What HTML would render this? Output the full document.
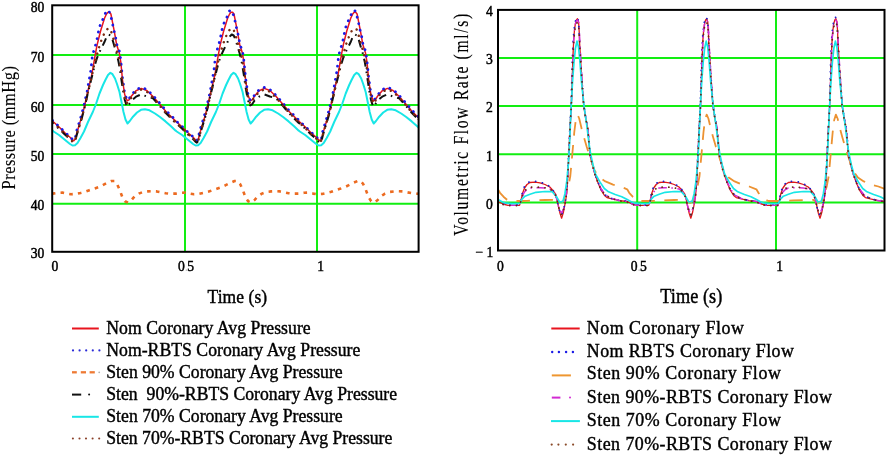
<!DOCTYPE html><html><head><meta charset="utf-8"><title>Coronary pressure and flow</title><style>
html,body{margin:0;padding:0;background:#fff;width:887px;height:456px;overflow:hidden}
svg{display:block}
text{font-family:"Liberation Serif","Times New Roman",serif;fill:#000}
.tk{font-size:13.6px}.ax{font-size:17.5px}.axr{font-size:18.3px}.lg{font-size:17.7px}.lgr{font-size:17.9px}text{stroke:#000;stroke-width:0.4px}.tk{stroke-width:0.45px}.yl{stroke-width:0.12px}
</style></head><body>
<svg width="887" height="456" viewBox="0 0 887 456">
<rect width="887" height="456" fill="#fff"/>
<defs>
<clipPath id="cl"><rect x="52.2" y="5.3" width="366.4" height="246.5"/></clipPath>
<clipPath id="cr"><rect x="498.0" y="9.9" width="386.5" height="240.6"/></clipPath>
</defs>
<g id="left-plot">
<line x1="52.2" y1="55.0" x2="418.6" y2="55.0" stroke="#12ee12" stroke-width="2"/>
<line x1="52.2" y1="105.0" x2="418.6" y2="105.0" stroke="#12ee12" stroke-width="2"/>
<line x1="52.2" y1="154.0" x2="418.6" y2="154.0" stroke="#12ee12" stroke-width="2"/>
<line x1="52.2" y1="203.8" x2="418.6" y2="203.8" stroke="#12ee12" stroke-width="2"/>
<line x1="185.0" y1="5.3" x2="185.0" y2="251.8" stroke="#12ee12" stroke-width="2"/>
<line x1="317.0" y1="5.3" x2="317.0" y2="251.8" stroke="#12ee12" stroke-width="2"/>
<g clip-path="url(#cl)">
<polyline points="47.9,116.5 52.3,120.9 52.5,120.9 53.6,122.0 59.1,127.0 64.6,132.5 70.0,137.3 72.5,140.0 73.8,140.8 75.3,139.0 76.8,133.0 79.5,124.0 81.8,116.5 84.2,107.5 87.7,92.0 91.6,75.8 95.3,54.3 97.2,44.5 100.5,31.3 104.5,18.2 106.5,14.0 108.0,12.3 109.5,12.3 110.9,14.0 111.7,18.2 114.3,31.3 116.6,44.5 119.3,53.0 120.8,62.0 122.5,80.0 124.7,94.5 127.1,100.8 129.0,99.8 131.5,96.0 136.0,90.7 141.2,88.4 146.8,90.5 153.0,96.5 160.0,104.4 165.5,111.0 171.0,116.5 175.4,120.9 175.6,120.9 176.7,122.0 182.2,127.0 187.7,132.5 193.1,137.3 195.6,140.0 196.9,140.8 198.4,139.0 199.9,133.0 202.6,124.0 204.9,116.5 207.3,107.5 210.8,92.0 214.7,75.8 218.4,54.3 220.3,44.5 223.6,31.3 227.6,18.2 229.6,14.0 231.1,12.3 232.6,12.3 234.0,14.0 234.8,18.2 237.4,31.3 239.7,44.5 242.4,53.0 243.9,62.0 245.6,80.0 247.8,94.5 250.2,100.8 252.1,99.8 254.6,96.0 259.1,90.7 264.3,88.4 269.9,90.5 276.1,96.5 283.1,104.4 288.6,111.0 294.1,116.5 298.5,120.9 298.7,120.9 299.8,122.0 305.3,127.0 310.8,132.5 316.2,137.3 318.7,140.0 320.0,140.8 321.5,139.0 323.0,133.0 325.7,124.0 328.0,116.5 330.4,107.5 333.9,92.0 337.8,75.8 341.5,54.3 343.4,44.5 346.7,31.3 350.7,18.2 352.7,14.0 354.2,12.3 355.7,12.3 357.1,14.0 357.9,18.2 360.5,31.3 362.8,44.5 365.5,53.0 367.0,62.0 368.7,80.0 370.9,94.5 373.3,100.8 375.2,99.8 377.7,96.0 382.2,90.7 387.4,88.4 393.0,90.5 399.2,96.5 406.2,104.4 411.7,111.0 417.2,116.5 421.6,120.9 421.8,120.9 422.9,122.0" fill="none" stroke="#e8141e" stroke-width="1.5" stroke-linecap="butt" stroke-linejoin="round"/>
<polyline points="47.9,115.5 52.3,119.9 52.5,120.4 53.6,121.5 59.1,126.5 64.6,132.0 70.0,136.8 72.5,139.5 73.8,140.3 75.3,138.5 76.2,132.5 78.9,123.5 81.2,116.0 83.6,107.0 87.1,91.5 90.9,70.0 92.4,56.0 94.0,50.0 95.7,44.5 97.4,37.5 98.6,31.0 100.5,24.0 103.6,17.8 106.3,11.0 107.6,10.3 109.0,11.0 111.2,17.8 112.5,23.5 113.6,29.0 115.5,36.6 116.8,44.5 119.3,51.0 120.5,58.0 122.5,78.0 124.7,93.5 127.1,100.3 129.0,98.8 131.5,95.0 136.0,89.7 141.2,87.4 146.8,89.5 153.0,95.5 160.0,103.4 165.5,110.0 171.0,115.5 175.4,119.9 175.6,120.4 176.7,121.5 182.2,126.5 187.7,132.0 193.1,136.8 195.6,139.5 196.9,140.3 198.4,138.5 199.3,132.5 202.0,123.5 204.3,116.0 206.7,107.0 210.2,91.5 214.0,70.0 215.5,56.0 217.1,50.0 218.8,44.5 220.5,37.5 221.7,31.0 223.6,24.0 226.7,17.8 229.4,11.0 230.7,10.3 232.1,11.0 234.3,17.8 235.6,23.5 236.7,29.0 238.6,36.6 239.9,44.5 242.4,51.0 243.6,58.0 245.6,78.0 247.8,93.5 250.2,100.3 252.1,98.8 254.6,95.0 259.1,89.7 264.3,87.4 269.9,89.5 276.1,95.5 283.1,103.4 288.6,110.0 294.1,115.5 298.5,119.9 298.7,120.4 299.8,121.5 305.3,126.5 310.8,132.0 316.2,136.8 318.7,139.5 320.0,140.3 321.5,138.5 322.4,132.5 325.1,123.5 327.4,116.0 329.8,107.0 333.3,91.5 337.1,70.0 338.6,56.0 340.2,50.0 341.9,44.5 343.6,37.5 344.8,31.0 346.7,24.0 349.8,17.8 352.5,11.0 353.8,10.3 355.2,11.0 357.4,17.8 358.7,23.5 359.8,29.0 361.7,36.6 363.0,44.5 365.5,51.0 366.7,58.0 368.7,78.0 370.9,93.5 373.3,100.3 375.2,98.8 377.7,95.0 382.2,89.7 387.4,87.4 393.0,89.5 399.2,95.5 406.2,103.4 411.7,110.0 417.2,115.5 421.6,119.9 421.8,120.4 422.9,121.5" fill="none" stroke="#1a1ae6" stroke-width="2.8" stroke-linecap="round" stroke-linejoin="round" stroke-dasharray="0.1 6.6"/>
<polyline points="46.9,193.7 52.3,193.6 52.5,193.6 58.0,192.8 62.3,192.6 67.0,193.6 71.0,194.3 76.0,193.9 80.6,192.9 85.0,191.8 89.4,190.2 93.8,188.8 98.2,187.3 102.6,185.2 107.0,182.9 111.5,181.0 114.5,181.0 117.0,184.0 119.5,189.5 122.3,197.0 125.0,201.2 128.0,202.6 131.5,200.0 134.5,196.5 138.8,193.6 143.0,192.0 148.0,191.4 152.5,191.2 156.8,191.4 161.0,192.3 165.6,193.2 170.0,193.7 175.4,193.6 175.6,193.6 181.1,192.8 185.4,192.6 190.1,193.6 194.1,194.3 199.1,193.9 203.7,192.9 208.1,191.8 212.5,190.2 216.9,188.8 221.3,187.3 225.7,185.2 230.1,182.9 234.6,181.0 237.6,181.0 240.1,184.0 242.6,189.5 245.4,197.0 248.1,201.2 251.1,202.6 254.6,200.0 257.6,196.5 261.9,193.6 266.1,192.0 271.1,191.4 275.6,191.2 279.9,191.4 284.1,192.3 288.7,193.2 293.1,193.7 298.5,193.6 298.7,193.6 304.2,192.8 308.5,192.6 313.2,193.6 317.2,194.3 322.2,193.9 326.8,192.9 331.2,191.8 335.6,190.2 340.0,188.8 344.4,187.3 348.8,185.2 353.2,182.9 357.7,181.0 360.7,181.0 363.2,184.0 365.7,189.5 368.5,197.0 371.2,201.2 374.2,202.6 377.7,200.0 380.7,196.5 385.0,193.6 389.2,192.0 394.2,191.4 398.7,191.2 403.0,191.4 407.2,192.3 411.8,193.2 416.2,193.7 421.6,193.6 421.8,193.6" fill="none" stroke="#ec6a20" stroke-width="2.6" stroke-linecap="butt" stroke-linejoin="round" stroke-dasharray="3.6 5.2" stroke-dashoffset="3.90"/>
<polyline points="47.9,118.3 52.3,122.7 52.5,122.7 53.6,123.8 59.1,128.8 64.6,134.3 70.0,139.1 72.5,141.8 73.8,142.6 75.3,140.8 76.8,134.8 79.5,125.8 81.8,118.3 84.2,109.3 87.7,93.8 91.6,78.0 94.6,66.0 97.0,58.0 100.0,51.0 102.5,46.0 104.7,41.5 106.7,36.5 108.6,34.5 110.6,35.5 112.6,40.0 114.6,47.0 116.6,53.5 118.6,62.0 120.6,74.0 122.6,88.0 124.8,100.0 126.9,106.5 127.1,105.3 129.0,104.3 131.5,100.5 136.0,96.7 141.2,94.4 146.8,96.5 153.0,98.3 160.0,106.2 165.5,112.8 171.0,118.3 175.4,122.7 175.6,122.7 176.7,123.8 182.2,128.8 187.7,134.3 193.1,139.1 195.6,141.8 196.9,142.6 198.4,140.8 199.9,134.8 202.6,125.8 204.9,118.3 207.3,109.3 210.8,93.8 214.7,78.0 217.7,66.0 220.1,58.0 223.1,51.0 225.6,46.0 227.8,41.5 229.8,36.5 231.7,34.5 233.7,35.5 235.7,40.0 237.7,47.0 239.7,53.5 241.7,62.0 243.7,74.0 245.7,88.0 247.9,100.0 250.0,106.5 250.2,105.3 252.1,104.3 254.6,100.5 259.1,96.7 264.3,94.4 269.9,96.5 276.1,98.3 283.1,106.2 288.6,112.8 294.1,118.3 298.5,122.7 298.7,122.7 299.8,123.8 305.3,128.8 310.8,134.3 316.2,139.1 318.7,141.8 320.0,142.6 321.5,140.8 323.0,134.8 325.7,125.8 328.0,118.3 330.4,109.3 333.9,93.8 337.8,78.0 340.8,66.0 343.2,58.0 346.2,51.0 348.7,46.0 350.9,41.5 352.9,36.5 354.8,34.5 356.8,35.5 358.8,40.0 360.8,47.0 362.8,53.5 364.8,62.0 366.8,74.0 368.8,88.0 371.0,100.0 373.1,106.5 373.3,105.3 375.2,104.3 377.7,100.5 382.2,96.7 387.4,94.4 393.0,96.5 399.2,98.3 406.2,106.2 411.7,112.8 417.2,118.3 421.6,122.7 421.8,122.7 422.9,123.8" fill="none" stroke="#111" stroke-width="2" stroke-linecap="butt" stroke-linejoin="round" stroke-dasharray="8 5 1.6 5"/>
<polyline points="47.9,126.3 52.3,130.5 52.5,130.5 53.6,131.5 59.0,135.0 64.8,139.8 70.0,144.0 72.5,145.5 75.0,145.2 77.5,143.0 80.5,138.0 84.0,131.5 88.0,122.0 92.8,112.0 96.0,104.0 99.5,93.5 103.0,85.0 105.5,79.8 108.0,75.0 110.4,72.8 112.5,74.2 115.0,78.5 117.0,84.0 119.5,92.0 121.5,102.0 123.5,112.0 125.5,119.5 127.5,123.5 129.8,121.0 133.0,116.7 137.0,112.5 141.0,109.8 145.0,109.2 149.5,110.3 155.0,113.5 160.0,117.0 165.5,121.4 171.0,126.3 175.4,130.5 175.6,130.5 176.7,131.5 182.1,135.0 187.9,139.8 193.1,144.0 195.6,145.5 198.1,145.2 200.6,143.0 203.6,138.0 207.1,131.5 211.1,122.0 215.9,112.0 219.1,104.0 222.6,93.5 226.1,85.0 228.6,79.8 231.1,75.0 233.5,72.8 235.6,74.2 238.1,78.5 240.1,84.0 242.6,92.0 244.6,102.0 246.6,112.0 248.6,119.5 250.6,123.5 252.9,121.0 256.1,116.7 260.1,112.5 264.1,109.8 268.1,109.2 272.6,110.3 278.1,113.5 283.1,117.0 288.6,121.4 294.1,126.3 298.5,130.5 298.7,130.5 299.8,131.5 305.2,135.0 311.0,139.8 316.2,144.0 318.7,145.5 321.2,145.2 323.7,143.0 326.7,138.0 330.2,131.5 334.2,122.0 339.0,112.0 342.2,104.0 345.7,93.5 349.2,85.0 351.7,79.8 354.2,75.0 356.6,72.8 358.7,74.2 361.2,78.5 363.2,84.0 365.7,92.0 367.7,102.0 369.7,112.0 371.7,119.5 373.7,123.5 376.0,121.0 379.2,116.7 383.2,112.5 387.2,109.8 391.2,109.2 395.7,110.3 401.2,113.5 406.2,117.0 411.7,121.4 417.2,126.3 421.6,130.5 421.8,130.5 422.9,131.5" fill="none" stroke="#18e6e6" stroke-width="2" stroke-linecap="butt" stroke-linejoin="round"/>
<polyline points="47.9,117.7 52.3,122.1 52.5,122.1 53.6,123.2 59.1,128.2 64.6,133.7 70.0,138.5 72.5,141.2 73.8,142.0 75.3,140.2 76.8,134.2 79.5,125.2 81.8,117.7 84.2,108.7 87.7,93.2 91.6,77.0 94.6,63.0 96.6,56.0 98.2,50.4 100.1,43.8 102.8,36.6 105.5,31.0 108.2,28.3 110.4,29.3 112.5,35.5 114.5,43.0 116.8,51.0 119.2,60.0 121.2,72.0 123.0,86.0 124.8,97.0 127.0,103.5 127.1,102.0 129.0,101.0 131.5,97.2 136.0,91.9 141.2,89.6 146.8,91.7 153.0,97.7 160.0,105.6 165.5,112.2 171.0,117.7 175.4,122.1 175.6,122.1 176.7,123.2 182.2,128.2 187.7,133.7 193.1,138.5 195.6,141.2 196.9,142.0 198.4,140.2 199.9,134.2 202.6,125.2 204.9,117.7 207.3,108.7 210.8,93.2 214.7,77.0 217.7,63.0 219.7,56.0 221.3,50.4 223.2,43.8 225.9,36.6 228.6,31.0 231.3,28.3 233.5,29.3 235.6,35.5 237.6,43.0 239.9,51.0 242.3,60.0 244.3,72.0 246.1,86.0 247.9,97.0 250.1,103.5 250.2,102.0 252.1,101.0 254.6,97.2 259.1,91.9 264.3,89.6 269.9,91.7 276.1,97.7 283.1,105.6 288.6,112.2 294.1,117.7 298.5,122.1 298.7,122.1 299.8,123.2 305.3,128.2 310.8,133.7 316.2,138.5 318.7,141.2 320.0,142.0 321.5,140.2 323.0,134.2 325.7,125.2 328.0,117.7 330.4,108.7 333.9,93.2 337.8,77.0 340.8,63.0 342.8,56.0 344.4,50.4 346.3,43.8 349.0,36.6 351.7,31.0 354.4,28.3 356.6,29.3 358.7,35.5 360.7,43.0 363.0,51.0 365.4,60.0 367.4,72.0 369.2,86.0 371.0,97.0 373.2,103.5 373.3,102.0 375.2,101.0 377.7,97.2 382.2,91.9 387.4,89.6 393.0,91.7 399.2,97.7 406.2,105.6 411.7,112.2 417.2,117.7 421.6,122.1 421.8,122.1 422.9,123.2" fill="none" stroke="#7a2a10" stroke-width="2.4" stroke-linecap="round" stroke-linejoin="round" stroke-dasharray="0.1 6.6"/>
</g>
<rect x="52.2" y="5.3" width="366.4" height="246.5" fill="none" stroke="#000" stroke-width="2"/>
<text class="tk" transform="translate(44.3,11.9) scale(1,1.1)" text-anchor="end">80</text>
<text class="tk" transform="translate(44.3,61.6) scale(1,1.1)" text-anchor="end">70</text>
<text class="tk" transform="translate(44.3,111.6) scale(1,1.1)" text-anchor="end">60</text>
<text class="tk" transform="translate(44.3,160.6) scale(1,1.1)" text-anchor="end">50</text>
<text class="tk" transform="translate(44.3,210.4) scale(1,1.1)" text-anchor="end">40</text>
<text class="tk" transform="translate(44.3,258.4) scale(1,1.1)" text-anchor="end">30</text>
<text class="tk" transform="translate(51.5,270.5) scale(1,1.1)">0</text>
<text class="tk" transform="translate(178,270.5) scale(1,1.1)">0<tspan fill="#c8c8c8" stroke="none">.</tspan><tspan dx="-1">5</tspan></text>
<text class="tk" transform="translate(317.2,270.5) scale(1,1.1)">1</text>
<text class="ax" transform="translate(207.5,302.6) scale(1,1.1)" textLength="59.7" lengthAdjust="spacing">Time (s)</text>
<text class="ax yl" transform="translate(14.5,189.4) rotate(-90) scale(0.94,1.1)" textLength="131.17" lengthAdjust="spacing">Pressure (mmHg)</text>
</g>
<g id="right-plot">
<line x1="498.0" y1="58.0" x2="884.5" y2="58.0" stroke="#12ee12" stroke-width="2"/>
<line x1="498.0" y1="106.1" x2="884.5" y2="106.1" stroke="#12ee12" stroke-width="2"/>
<line x1="498.0" y1="154.2" x2="884.5" y2="154.2" stroke="#12ee12" stroke-width="2"/>
<line x1="498.0" y1="202.4" x2="884.5" y2="202.4" stroke="#12ee12" stroke-width="2"/>
<line x1="637.2" y1="9.9" x2="637.2" y2="250.5" stroke="#12ee12" stroke-width="2"/>
<line x1="776.0" y1="9.9" x2="776.0" y2="250.5" stroke="#12ee12" stroke-width="2"/>
<g clip-path="url(#cr)">
<polyline points="490.4,200.6 498.0,201.5 503.0,204.0 508.0,205.3 519.5,205.3 521.0,200.5 522.5,193.5 524.5,188.0 527.0,184.5 530.0,182.5 535.0,182.2 540.0,182.8 545.0,184.5 549.8,187.0 552.5,190.0 555.5,194.0 557.0,199.0 558.4,206.0 560.0,213.4 561.6,218.2 563.5,212.0 565.3,202.5 566.4,195.3 567.3,184.5 568.0,172.0 569.0,150.0 570.2,125.0 571.3,106.0 572.2,80.0 572.8,60.0 573.7,40.0 574.4,31.0 575.3,24.2 576.4,20.0 577.5,18.8 578.6,22.0 579.2,31.9 579.6,43.0 580.3,54.0 581.2,70.0 582.4,88.0 583.7,106.0 585.6,118.0 587.7,128.0 589.0,143.0 590.0,155.0 592.2,164.0 594.4,172.5 597.7,182.0 601.0,190.0 604.5,195.5 607.0,197.6 612.0,198.9 619.6,200.6 627.2,201.5 632.2,204.0 637.2,205.3 648.7,205.3 650.2,200.5 651.7,193.5 653.7,188.0 656.2,184.5 659.2,182.5 664.2,182.2 669.2,182.8 674.2,184.5 679.0,187.0 681.7,190.0 684.7,194.0 686.2,199.0 687.6,206.0 689.2,213.4 690.8,218.2 692.7,212.0 694.5,202.5 695.6,195.3 696.5,184.5 697.2,172.0 698.2,150.0 699.4,125.0 700.5,106.0 701.4,80.0 702.0,60.0 702.9,40.0 703.6,31.0 704.5,24.2 705.6,20.0 706.7,18.8 707.8,22.0 708.4,31.9 708.8,43.0 709.5,54.0 710.4,70.0 711.6,88.0 712.9,106.0 714.8,118.0 716.9,128.0 718.2,143.0 719.2,155.0 721.4,164.0 723.6,172.5 726.9,182.0 730.2,190.0 733.7,195.5 736.2,197.6 741.2,198.9 748.8,200.6 756.4,201.5 761.4,204.0 766.4,205.3 777.9,205.3 779.4,200.5 780.9,193.5 782.9,188.0 785.4,184.5 788.4,182.5 793.4,182.2 798.4,182.8 803.4,184.5 808.2,187.0 810.9,190.0 813.9,194.0 815.4,199.0 816.8,206.0 818.4,213.4 820.0,218.2 821.9,212.0 823.7,202.5 824.8,195.3 825.7,184.5 826.4,172.0 827.4,150.0 828.6,125.0 829.7,106.0 830.6,80.0 831.2,60.0 832.1,40.0 832.8,31.0 833.7,24.2 834.8,20.0 835.9,18.8 837.0,22.0 837.6,31.9 838.0,43.0 838.7,54.0 839.6,70.0 840.8,88.0 842.1,106.0 844.0,118.0 846.1,128.0 847.4,143.0 848.4,155.0 850.6,164.0 852.8,172.5 856.1,182.0 859.4,190.0 862.9,195.5 865.4,197.6 870.4,198.9 878.0,200.6 885.6,201.5 890.6,204.0" fill="none" stroke="#e01818" stroke-width="1.3" stroke-linecap="butt" stroke-linejoin="round"/>
<polyline points="490.4,200.6 498.0,201.0 503.0,203.5 508.0,205.0 519.3,205.0 520.8,200.0 522.3,193.0 524.3,187.0 527.0,183.5 530.0,181.4 535.0,181.3 540.0,182.0 545.0,183.8 549.8,186.5 552.5,189.5 555.3,194.0 556.8,199.0 558.2,206.0 560.0,212.0 561.5,215.0 563.5,210.0 565.2,202.0 566.2,195.0 567.0,184.0 567.8,172.0 568.8,150.0 570.0,125.0 571.0,106.0 571.8,80.0 572.3,60.0 573.2,40.0 574.0,30.0 575.0,23.0 576.2,18.5 577.2,17.3 578.4,20.5 579.1,30.0 579.6,42.0 580.3,54.0 581.3,70.0 582.6,88.0 584.0,106.0 585.9,118.0 587.9,128.0 589.2,143.0 590.3,155.0 592.4,164.5 594.6,173.0 597.9,182.0 601.2,189.5 605.6,195.3 612.0,198.6 619.6,200.6 627.2,201.0 632.2,203.5 637.2,205.0 648.5,205.0 650.0,200.0 651.5,193.0 653.5,187.0 656.2,183.5 659.2,181.4 664.2,181.3 669.2,182.0 674.2,183.8 679.0,186.5 681.7,189.5 684.5,194.0 686.0,199.0 687.4,206.0 689.2,212.0 690.7,215.0 692.7,210.0 694.4,202.0 695.4,195.0 696.2,184.0 697.0,172.0 698.0,150.0 699.2,125.0 700.2,106.0 701.0,80.0 701.5,60.0 702.4,40.0 703.2,30.0 704.2,23.0 705.4,18.5 706.4,17.3 707.6,20.5 708.3,30.0 708.8,42.0 709.5,54.0 710.5,70.0 711.8,88.0 713.2,106.0 715.1,118.0 717.1,128.0 718.4,143.0 719.5,155.0 721.6,164.5 723.8,173.0 727.1,182.0 730.4,189.5 734.8,195.3 741.2,198.6 748.8,200.6 756.4,201.0 761.4,203.5 766.4,205.0 777.7,205.0 779.2,200.0 780.7,193.0 782.7,187.0 785.4,183.5 788.4,181.4 793.4,181.3 798.4,182.0 803.4,183.8 808.2,186.5 810.9,189.5 813.7,194.0 815.2,199.0 816.6,206.0 818.4,212.0 819.9,215.0 821.9,210.0 823.6,202.0 824.6,195.0 825.4,184.0 826.2,172.0 827.2,150.0 828.4,125.0 829.4,106.0 830.2,80.0 830.7,60.0 831.6,40.0 832.4,30.0 833.4,23.0 834.6,18.5 835.6,17.3 836.8,20.5 837.5,30.0 838.0,42.0 838.7,54.0 839.7,70.0 841.0,88.0 842.4,106.0 844.3,118.0 846.3,128.0 847.6,143.0 848.7,155.0 850.8,164.5 853.0,173.0 856.3,182.0 859.6,189.5 864.0,195.3 870.4,198.6 878.0,200.6 885.6,201.0 890.6,203.5" fill="none" stroke="#2020c8" stroke-width="1.8" stroke-linecap="round" stroke-linejoin="round" stroke-dasharray="0.1 6.8"/>
<polyline points="490.8,186.5 498.0,189.3 500.0,192.8 503.5,196.7 507.0,199.7 510.0,201.0 520.0,201.0 527.0,200.8 535.0,200.4 545.0,200.0 554.6,199.8 557.5,201.5 561.0,202.8 564.0,200.5 566.5,193.0 568.5,185.7 570.3,176.0 571.6,162.0 572.8,148.7 574.3,132.0 575.8,120.0 577.5,114.6 579.2,118.5 581.7,129.0 584.0,137.5 586.7,146.7 590.0,157.0 594.6,170.5 599.5,177.5 605.4,181.4 613.0,184.7 620.0,186.5 627.2,189.3 629.2,192.8 632.7,196.7 636.2,199.7 639.2,201.0 649.2,201.0 656.2,200.8 664.2,200.4 674.2,200.0 683.8,199.8 686.7,201.5 690.2,202.8 693.2,200.5 695.7,193.0 697.7,185.7 699.5,176.0 700.8,162.0 702.0,148.7 703.5,132.0 705.0,120.0 706.7,114.6 708.4,118.5 710.9,129.0 713.2,137.5 715.9,146.7 719.2,157.0 723.8,170.5 728.7,177.5 734.6,181.4 742.2,184.7 749.2,186.5 756.4,189.3 758.4,192.8 761.9,196.7 765.4,199.7 768.4,201.0 778.4,201.0 785.4,200.8 793.4,200.4 803.4,200.0 813.0,199.8 815.9,201.5 819.4,202.8 822.4,200.5 824.9,193.0 826.9,185.7 828.7,176.0 830.0,162.0 831.2,148.7 832.7,132.0 834.2,120.0 835.9,114.6 837.6,118.5 840.1,129.0 842.4,137.5 845.1,146.7 848.4,157.0 853.0,170.5 857.9,177.5 863.8,181.4 871.4,184.7 878.4,186.5 885.6,189.3 887.6,192.8 891.1,196.7" fill="none" stroke="#ec9232" stroke-width="1.8" stroke-linecap="butt" stroke-linejoin="round" stroke-dasharray="13.5 9.5" stroke-dashoffset="14.67"/>
<polyline points="490.4,200.6 498.0,201.5 503.0,204.0 508.0,205.3 519.5,205.3 521.0,201.0 522.5,196.0 524.5,192.0 527.0,189.5 530.0,188.0 535.0,187.8 540.0,187.8 545.0,188.0 549.8,189.0 552.5,191.0 555.5,195.0 557.0,200.0 558.4,206.0 560.0,211.0 561.6,213.0 563.5,209.0 565.3,201.0 566.4,194.5 567.3,184.5 568.0,172.0 569.0,150.0 570.2,125.0 571.3,106.0 572.2,80.0 572.8,60.0 573.7,40.0 574.4,31.0 575.3,24.5 576.4,21.0 577.6,20.0 578.8,23.0 579.4,32.0 579.8,43.0 580.5,54.0 581.4,70.0 582.6,88.0 583.9,106.0 585.8,118.0 587.9,128.0 589.2,143.0 590.2,155.0 592.4,164.0 594.6,172.5 597.9,181.5 601.2,189.0 605.6,195.0 612.0,198.4 619.6,200.6 627.2,201.5 632.2,204.0 637.2,205.3 648.7,205.3 650.2,201.0 651.7,196.0 653.7,192.0 656.2,189.5 659.2,188.0 664.2,187.8 669.2,187.8 674.2,188.0 679.0,189.0 681.7,191.0 684.7,195.0 686.2,200.0 687.6,206.0 689.2,211.0 690.8,213.0 692.7,209.0 694.5,201.0 695.6,194.5 696.5,184.5 697.2,172.0 698.2,150.0 699.4,125.0 700.5,106.0 701.4,80.0 702.0,60.0 702.9,40.0 703.6,31.0 704.5,24.5 705.6,21.0 706.8,20.0 708.0,23.0 708.6,32.0 709.0,43.0 709.7,54.0 710.6,70.0 711.8,88.0 713.1,106.0 715.0,118.0 717.1,128.0 718.4,143.0 719.4,155.0 721.6,164.0 723.8,172.5 727.1,181.5 730.4,189.0 734.8,195.0 741.2,198.4 748.8,200.6 756.4,201.5 761.4,204.0 766.4,205.3 777.9,205.3 779.4,201.0 780.9,196.0 782.9,192.0 785.4,189.5 788.4,188.0 793.4,187.8 798.4,187.8 803.4,188.0 808.2,189.0 810.9,191.0 813.9,195.0 815.4,200.0 816.8,206.0 818.4,211.0 820.0,213.0 821.9,209.0 823.7,201.0 824.8,194.5 825.7,184.5 826.4,172.0 827.4,150.0 828.6,125.0 829.7,106.0 830.6,80.0 831.2,60.0 832.1,40.0 832.8,31.0 833.7,24.5 834.8,21.0 836.0,20.0 837.2,23.0 837.8,32.0 838.2,43.0 838.9,54.0 839.8,70.0 841.0,88.0 842.3,106.0 844.2,118.0 846.3,128.0 847.6,143.0 848.6,155.0 850.8,164.0 853.0,172.5 856.3,181.5 859.6,189.0 864.0,195.0 870.4,198.4 878.0,200.6 885.6,201.5 890.6,204.0" fill="none" stroke="#d22ad2" stroke-width="1.5" stroke-linecap="butt" stroke-linejoin="round" stroke-dasharray="8.6 4.5 1.6 4.5"/>
<polyline points="492.6,196.7 498.0,199.6 502.0,201.7 506.0,203.2 512.0,203.6 520.0,203.5 522.0,199.2 525.0,196.2 530.0,194.3 536.0,192.3 545.0,191.5 552.2,191.7 556.4,196.5 559.5,202.0 563.0,201.3 564.9,194.0 566.7,182.0 568.3,165.0 569.5,145.0 571.0,110.0 572.5,82.0 574.0,62.0 575.5,48.0 577.0,41.2 578.5,47.0 579.8,60.0 581.5,82.0 584.0,106.0 587.0,127.0 589.2,145.0 590.6,154.0 593.0,165.0 595.5,174.3 599.9,181.9 604.3,188.5 608.6,191.8 615.2,194.5 621.8,196.7 627.2,199.6 631.2,201.7 635.2,203.2 641.2,203.6 649.2,203.5 651.2,199.2 654.2,196.2 659.2,194.3 665.2,192.3 674.2,191.5 681.4,191.7 685.6,196.5 688.7,202.0 692.2,201.3 694.1,194.0 695.9,182.0 697.5,165.0 698.7,145.0 700.2,110.0 701.7,82.0 703.2,62.0 704.7,48.0 706.2,41.2 707.7,47.0 709.0,60.0 710.7,82.0 713.2,106.0 716.2,127.0 718.4,145.0 719.8,154.0 722.2,165.0 724.7,174.3 729.1,181.9 733.5,188.5 737.8,191.8 744.4,194.5 751.0,196.7 756.4,199.6 760.4,201.7 764.4,203.2 770.4,203.6 778.4,203.5 780.4,199.2 783.4,196.2 788.4,194.3 794.4,192.3 803.4,191.5 810.6,191.7 814.8,196.5 817.9,202.0 821.4,201.3 823.3,194.0 825.1,182.0 826.7,165.0 827.9,145.0 829.4,110.0 830.9,82.0 832.4,62.0 833.9,48.0 835.4,41.2 836.9,47.0 838.2,60.0 839.9,82.0 842.4,106.0 845.4,127.0 847.6,145.0 849.0,154.0 851.4,165.0 853.9,174.3 858.3,181.9 862.7,188.5 867.0,191.8 873.6,194.5 880.2,196.7 885.6,199.6 889.6,201.7" fill="none" stroke="#18e6e6" stroke-width="1.7" stroke-linecap="butt" stroke-linejoin="round"/>
<polyline points="490.4,200.8 498.0,202.0 503.0,204.5 508.0,205.5 519.5,205.5 521.0,201.0 522.5,195.5 524.5,191.0 527.0,188.5 530.0,187.3 535.0,187.0 540.0,187.2 545.0,187.8 549.8,189.0 552.5,191.0 555.5,195.0 557.0,200.0 558.4,206.0 560.0,212.0 561.6,215.0 563.5,210.0 565.3,202.0 566.4,195.0 567.3,184.5 568.0,172.0 569.0,150.0 570.2,125.0 571.3,106.0 572.2,80.0 572.8,60.0 573.7,42.0 574.4,33.0 575.3,27.0 576.4,23.5 577.5,22.5 578.6,25.0 579.2,33.0 579.6,43.0 580.3,54.0 581.2,70.0 582.4,88.0 583.7,106.0 585.6,118.0 587.7,128.0 589.0,143.0 590.0,155.0 592.2,164.5 594.4,173.0 597.7,182.0 601.0,189.5 605.4,195.5 611.9,198.6 619.6,200.8 627.2,202.0 632.2,204.5 637.2,205.5 648.7,205.5 650.2,201.0 651.7,195.5 653.7,191.0 656.2,188.5 659.2,187.3 664.2,187.0 669.2,187.2 674.2,187.8 679.0,189.0 681.7,191.0 684.7,195.0 686.2,200.0 687.6,206.0 689.2,212.0 690.8,215.0 692.7,210.0 694.5,202.0 695.6,195.0 696.5,184.5 697.2,172.0 698.2,150.0 699.4,125.0 700.5,106.0 701.4,80.0 702.0,60.0 702.9,42.0 703.6,33.0 704.5,27.0 705.6,23.5 706.7,22.5 707.8,25.0 708.4,33.0 708.8,43.0 709.5,54.0 710.4,70.0 711.6,88.0 712.9,106.0 714.8,118.0 716.9,128.0 718.2,143.0 719.2,155.0 721.4,164.5 723.6,173.0 726.9,182.0 730.2,189.5 734.6,195.5 741.1,198.6 748.8,200.8 756.4,202.0 761.4,204.5 766.4,205.5 777.9,205.5 779.4,201.0 780.9,195.5 782.9,191.0 785.4,188.5 788.4,187.3 793.4,187.0 798.4,187.2 803.4,187.8 808.2,189.0 810.9,191.0 813.9,195.0 815.4,200.0 816.8,206.0 818.4,212.0 820.0,215.0 821.9,210.0 823.7,202.0 824.8,195.0 825.7,184.5 826.4,172.0 827.4,150.0 828.6,125.0 829.7,106.0 830.6,80.0 831.2,60.0 832.1,42.0 832.8,33.0 833.7,27.0 834.8,23.5 835.9,22.5 837.0,25.0 837.6,33.0 838.0,43.0 838.7,54.0 839.6,70.0 840.8,88.0 842.1,106.0 844.0,118.0 846.1,128.0 847.4,143.0 848.4,155.0 850.6,164.5 852.8,173.0 856.1,182.0 859.4,189.5 863.8,195.5 870.3,198.6 878.0,200.8 885.6,202.0 890.6,204.5" fill="none" stroke="#6a2a10" stroke-width="1.8" stroke-linecap="round" stroke-linejoin="round" stroke-dasharray="0.1 6.6"/>
</g>
<rect x="498.0" y="9.9" width="386.5" height="240.6" fill="none" stroke="#000" stroke-width="2"/>
<text class="tk" transform="translate(492.8,16.2) scale(1,1.1)" text-anchor="end">4</text>
<text class="tk" transform="translate(492.8,64.3) scale(1,1.1)" text-anchor="end">3</text>
<text class="tk" transform="translate(492.8,112.4) scale(1,1.1)" text-anchor="end">2</text>
<text class="tk" transform="translate(492.8,160.5) scale(1,1.1)" text-anchor="end">1</text>
<text class="tk" transform="translate(492.8,208.7) scale(1,1.1)" text-anchor="end">0</text>
<text class="tk" transform="translate(493.2,256.8) scale(1,1.1)" text-anchor="end">&#8722; 1</text>
<text class="tk" transform="translate(497,270.5) scale(1,1.1)">0</text>
<text class="tk" transform="translate(630.8,270.5) scale(1,1.1)">0<tspan fill="#c8c8c8" stroke="none">.</tspan><tspan dx="-1">5</tspan></text>
<text class="tk" transform="translate(776.2,270.5) scale(1,1.1)">1</text>
<text class="axr" transform="translate(660.3,302.6) scale(1,1.1)" textLength="62.0" lengthAdjust="spacing">Time (s)</text>
<text class="axr yl" transform="translate(467.6,235.8) rotate(-90) scale(0.86,1.1)" textLength="258.14" lengthAdjust="spacing">Volumetric Flow Rate (ml/s)</text>
</g>
<g id="legend-left">
<text class="lg" transform="translate(106.3,333.9) scale(1,1.02)" textLength="204.4" lengthAdjust="spacing">Nom Coronary Avg Pressure</text>
<text class="lg" transform="translate(106.3,355.9) scale(1,1.02)" textLength="254.0" lengthAdjust="spacing">Nom-RBTS Coronary Avg Pressure</text>
<text class="lg" transform="translate(106.3,377.9) scale(1,1.02)" textLength="236.4" lengthAdjust="spacing">Sten 90% Coronary Avg Pressure</text>
<text class="lg" transform="translate(106.3,399.9) scale(1,1.02)" textLength="290.8" lengthAdjust="spacing">Sten&#160; 90%-RBTS Coronary Avg Pressure</text>
<text class="lg" transform="translate(106.3,421.9) scale(1,1.02)" textLength="236.4" lengthAdjust="spacing">Sten 70% Coronary Avg Pressure</text>
<text class="lg" transform="translate(106.3,443.9) scale(1,1.02)" textLength="286.0" lengthAdjust="spacing">Sten 70%-RBTS Coronary Avg Pressure</text>
<line x1="72" y1="328.5" x2="98.8" y2="328.5" stroke="#e8141e" stroke-width="2"/>
<circle cx="73" cy="350.4" r="1.1" fill="#2a2ad8"/>
<circle cx="79.6" cy="350.4" r="1.1" fill="#2a2ad8"/>
<circle cx="86.2" cy="350.4" r="1.1" fill="#2a2ad8"/>
<circle cx="92.8" cy="350.4" r="1.1" fill="#2a2ad8"/>
<circle cx="99.4" cy="350.4" r="1.1" fill="#2a2ad8"/>
<line x1="72" y1="372.3" x2="76.8" y2="372.3" stroke="#ee7a34" stroke-width="2.3"/>
<line x1="80.8" y1="372.3" x2="86" y2="372.3" stroke="#ee7a34" stroke-width="2.3"/>
<line x1="89.6" y1="372.3" x2="94.8" y2="372.3" stroke="#ee7a34" stroke-width="2.3"/>
<circle cx="99.2" cy="372.3" r="0.9" fill="#b0b0b0"/>
<line x1="72" y1="394.6" x2="81.2" y2="394.6" stroke="#111" stroke-width="2"/>
<circle cx="89.1" cy="394.6" r="1" fill="#111"/>
<line x1="72" y1="416.8" x2="98.8" y2="416.8" stroke="#18e6e6" stroke-width="2"/>
<circle cx="72.9" cy="438.5" r="1.05" fill="#8a4028"/>
<circle cx="79.5" cy="438.5" r="1.05" fill="#8a4028"/>
<circle cx="86" cy="438.5" r="1.05" fill="#8a4028"/>
<circle cx="92.6" cy="438.5" r="1.05" fill="#8a4028"/>
<circle cx="99.2" cy="438.5" r="1.05" fill="#8a4028"/>
</g>
<g id="legend-right">
<text class="lgr" transform="translate(586.8,333.7) scale(1,1.0)" textLength="157.0" lengthAdjust="spacing">Nom Coronary Flow</text>
<text class="lgr" transform="translate(586.8,357.0) scale(1,1.0)" textLength="207.0" lengthAdjust="spacing">Nom RBTS Coronary Flow</text>
<text class="lgr" transform="translate(586.8,379.4) scale(1,1.0)" textLength="194.0" lengthAdjust="spacing">Sten 90% Coronary Flow</text>
<text class="lgr" transform="translate(586.8,402.8) scale(1,1.0)" textLength="245.0" lengthAdjust="spacing">Sten 90%-RBTS Coronary Flow</text>
<text class="lgr" transform="translate(586.8,426.1) scale(1,1.0)" textLength="194.0" lengthAdjust="spacing">Sten 70% Coronary Flow</text>
<text class="lgr" transform="translate(586.8,449.5) scale(1,1.0)" textLength="245.0" lengthAdjust="spacing">Sten 70%-RBTS Coronary Flow</text>
<line x1="551.3" y1="328.5" x2="579.7" y2="328.5" stroke="#e8141e" stroke-width="2"/>
<circle cx="552.2" cy="352.0" r="1.2" fill="#1a1ae6"/>
<circle cx="558.9" cy="352.0" r="1.2" fill="#1a1ae6"/>
<circle cx="566.1" cy="352.0" r="1.2" fill="#1a1ae6"/>
<circle cx="572.9" cy="352.0" r="1.2" fill="#1a1ae6"/>
<line x1="551.8" y1="375.4" x2="570.9" y2="375.4" stroke="#ee9630" stroke-width="2"/>
<line x1="551.8" y1="397.6" x2="560.4" y2="397.6" stroke="#d22ad2" stroke-width="2"/>
<circle cx="570" cy="397.6" r="1" fill="#d22ad2"/>
<line x1="551" y1="421.1" x2="579.9" y2="421.1" stroke="#18e6e6" stroke-width="2"/>
<circle cx="551.7" cy="444.6" r="1.1" fill="#8a4a28"/>
<circle cx="558.4" cy="444.6" r="1.1" fill="#8a4a28"/>
<circle cx="565.8" cy="444.6" r="1.1" fill="#8a4a28"/>
<circle cx="573.1" cy="444.6" r="1.1" fill="#8a4a28"/>
</g>
</svg></body></html>
